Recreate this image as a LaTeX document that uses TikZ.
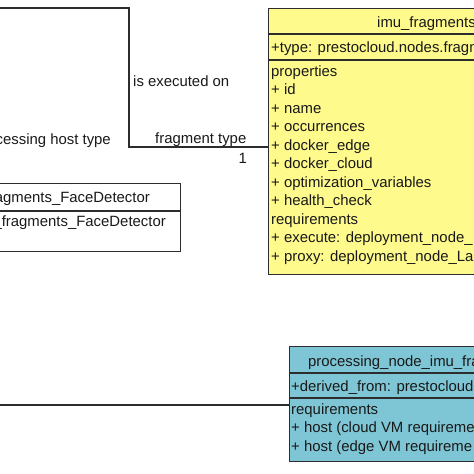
\documentclass[tikz,border=0pt]{standalone}
\usepackage{fontspec}
\setmainfont{Liberation Sans}
\definecolor{umlyellow}{RGB}{255,250,140}
\definecolor{umlblue}{RGB}{126,198,213}
\definecolor{umlline}{RGB}{45,45,45}
\definecolor{umltext}{RGB}{25,25,25}
\begin{document}
\begin{tikzpicture}[x=1pt,y=-1pt,
  txt/.style={font=\fontsize{14.9}{18}\selectfont, inner sep=0pt, text=umltext},
  lbl/.style={txt, anchor=base west},
  rlbl/.style={txt, anchor=base east},
  umlbox/.style={draw=umlline, line width=1.3pt, inner sep=0pt},
  conn/.style={draw=umlline, line width=1.3pt}]
\useasboundingbox (0,0) rectangle (474,474);
\clip (0,0) rectangle (474,474);

% ---------- boxes ----------
\node[umlbox, fill=umlyellow, anchor=north west, minimum width=240pt, minimum height=266pt] (yb) at (268,8) {};
\node[umlbox, fill=white, anchor=north east, minimum width=250pt, minimum height=68pt] (wb) at (181,183) {};
\node[umlbox, fill=umlblue, anchor=north west, minimum width=250pt, minimum height=115pt] (bb) at (289,346) {};

% compartments
\draw[conn] (yb.west |- 0,34) -- (yb.east |- 0,34);
\draw[conn] (yb.west |- 0,60) -- (yb.east |- 0,60);
\draw[conn] (wb.west |- 0,211) -- (wb.east |- 0,211);
\draw[conn] (bb.west |- 0,373) -- (bb.east |- 0,373);
\draw[conn] (bb.west |- 0,398) -- (bb.east |- 0,398);

% ---------- connectors ----------
\coordinate (c1) at (0,8);
\coordinate (c2) at (129,8);
\coordinate (c3) at (129,147);
\draw[conn] (c1) -- (c2) -- (c3) -- (yb.west |- c3);
\coordinate (c4) at (0,405);
\draw[conn] (c4) -- (bb.west |- c4);

% ---------- connector labels ----------
\node[lbl] (l1) at (133,86) {is executed on};
\node[rlbl] (l2) at (111,144) {cessing host type};
\node[lbl] (l3) at (155,143.5) {fragment type};
\node[rlbl] (l4) at (247,163) {1};

% ---------- yellow box text ----------
\node[lbl] (yh) at (377,27.5) {imu\_fragments};
\node[lbl] (yt) at (271,52.5) {+type: prestocloud.nodes.fragm};
\node[lbl] (y1) at (271,76) {properties};
\node[lbl] (y2) at (271,94.5) {+ id};
\node[lbl] (y3) at (271,113) {+ name};
\node[lbl] (y4) at (271,131.5) {+ occurrences};
\node[lbl] (y5) at (271,150) {+ docker\_edge};
\node[lbl] (y6) at (271,168.5) {+ docker\_cloud};
\node[lbl] (y7) at (271,187) {+ optimization\_variables};
\node[lbl] (y8) at (271,205.5) {+ health\_check};
\node[lbl] (y9) at (271,224) {requirements};
\node[lbl] (y10) at (271,242.5) {+ execute: deployment\_node\_};
\node[lbl] (y11) at (271,261) {+ proxy: deployment\_node\_La};

% ---------- white box text ----------
\node[rlbl] (wh) at (150,202.5) {agments\_FaceDetector};
\node[rlbl] (wt) at (166,226.5) {\_fragments\_FaceDetector};

% ---------- blue box text ----------
\node[lbl] (bh) at (308,366) {processing\_node\_imu\_fra};
\node[lbl] (bt) at (291,391) {+derived\_from: prestocloud};
\node[lbl] (b1) at (291,414) {requirements};
\node[lbl] (b2) at (291,432.5) {+ host (cloud VM requireme};
\node[lbl] (b3) at (291,451) {+ host (edge VM requireme};
\end{tikzpicture}
\end{document}
